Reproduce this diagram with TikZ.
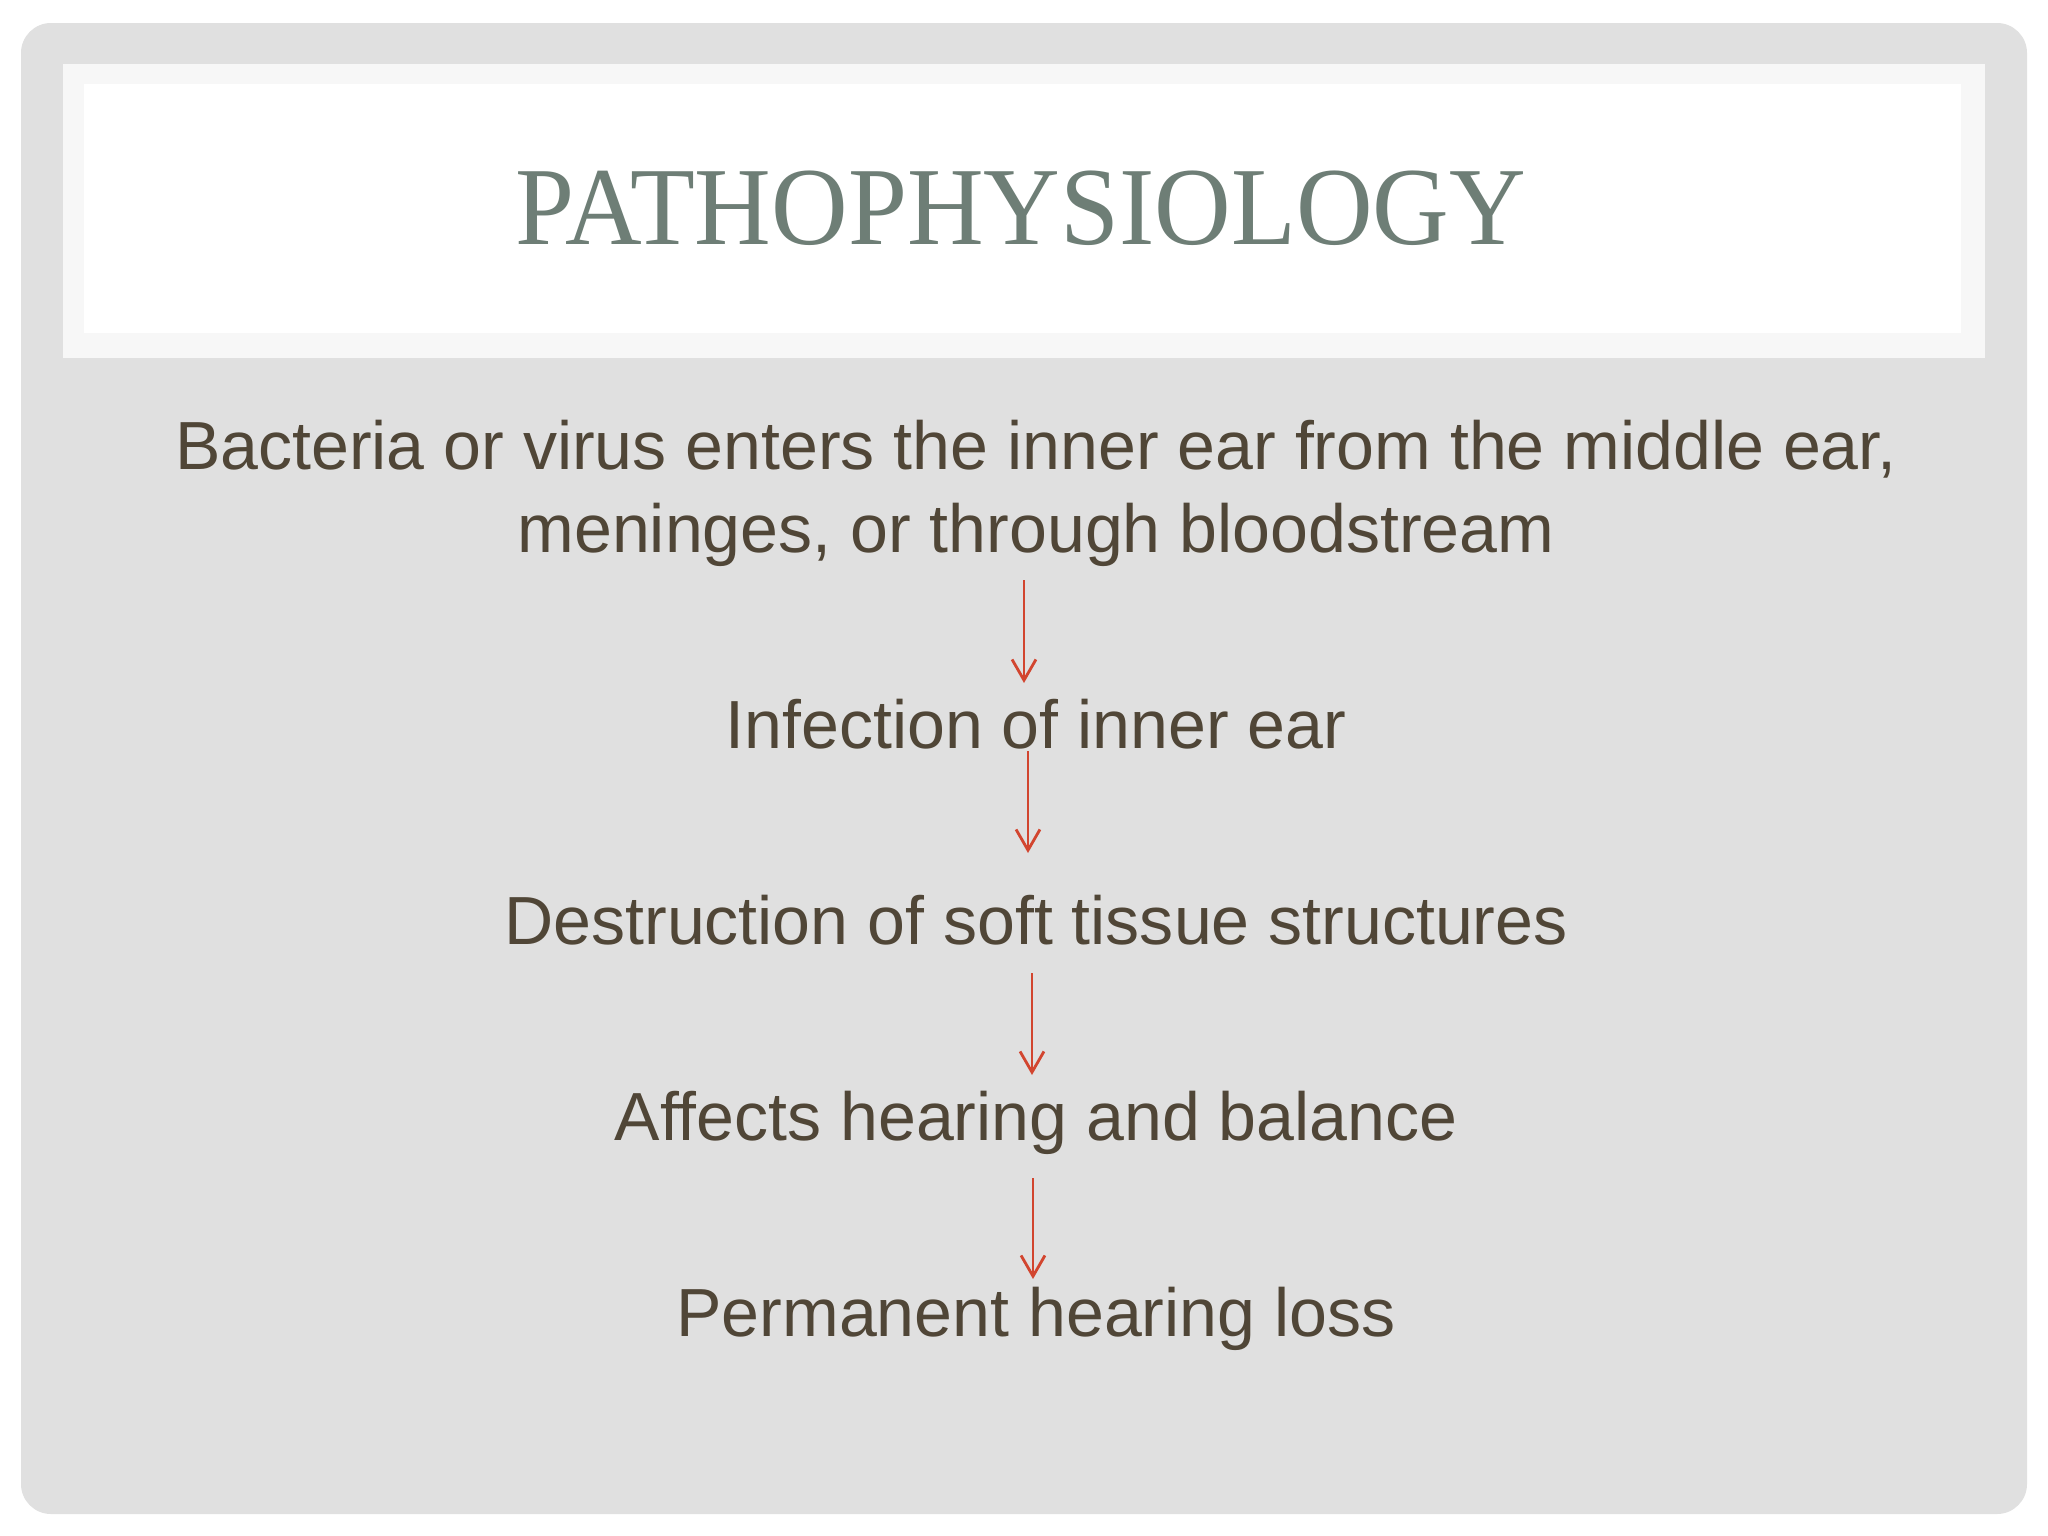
\documentclass[tikz,border=0pt]{standalone}
\usepackage{fontspec}
\usepackage{graphicx}
\usepackage{xcolor}
\usepackage{tikz}
\usetikzlibrary{arrows.meta}
\newfontfamily\titlefont{Liberation Serif}
\newfontfamily\bodyfont{Liberation Sans}
\definecolor{slide_gray}{HTML}{E0E0E0}
\definecolor{band_white}{HTML}{F7F7F7}
\definecolor{title_green}{HTML}{6E7E76}
\definecolor{text_brown}{HTML}{504637}
\definecolor{arrow_red}{HTML}{D2452F}

\begin{document}
\begin{tikzpicture}[x=0.01cm, y=-0.01cm]
            % Styles
            \tikzstyle{steptext} = [anchor=base, inner sep=0pt, text=text_brown, font=\bodyfont\fontsize{19.36}{23.6}\selectfont]
            \tikzstyle{flow} = [-{Straight Barb[length=5.9pt, width=6.8pt]}, draw=arrow_red, line width=0.8pt]

            % Slide background
            \useasboundingbox (0,0) rectangle (2048,1536);
            \fill[white] (0,0) rectangle (2048,1536);
            \fill[slide_gray, rounded corners=0.3cm] (21,23) rectangle (2027,1514);
            \fill[band_white] (63,64) rectangle (1985,358);
            \fill[white] (84,84) rectangle (1961,333);

            % Nodes: Title
            \node[anchor=base, inner sep=0pt, text=title_green, font=\titlefont\fontsize{31.6}{36}\selectfont] (title) at (1021,244) {\scalebox{0.955}[1]{PATHOPHYSIOLOGY}};

            % Nodes: Steps
            \node[steptext] (S1a) at (1036,469) {Bacteria or virus enters the inner ear from the middle ear,};
            \node[steptext] (S1b) at (1036,552) {meninges, or through bloodstream};
            \node[steptext] (S2) at (1036,748) {Infection of inner ear};
            \node[steptext] (S3) at (1036,944) {Destruction of soft tissue structures};
            \node[steptext] (S4) at (1036,1140) {Affects hearing and balance};
            \node[steptext] (S5) at (1036,1336) {Permanent hearing loss};

            % Arrow ends
            \coordinate (A1s) at (1024,580);
            \coordinate (A1e) at (1024,683);
            \coordinate (A2s) at (1028,751);
            \coordinate (A2e) at (1028,853);
            \coordinate (A3s) at (1032,973);
            \coordinate (A3e) at (1032,1075);
            \coordinate (A4s) at (1033,1178);
            \coordinate (A4e) at (1033,1279);

            % Arrows: step to step
            \draw[flow] (A1s) -- (A1e);
            \draw[flow] (A2s) -- (A2e);
            \draw[flow] (A3s) -- (A3e);
            \draw[flow] (A4s) -- (A4e);
        \end{tikzpicture}
\end{document}
